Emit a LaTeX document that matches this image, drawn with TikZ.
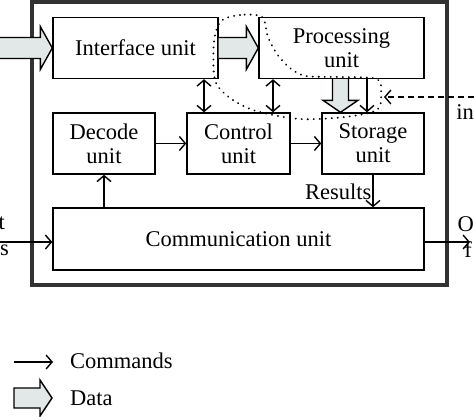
\documentclass[tikz,border=0pt]{standalone}
\usepackage{fontspec}
\setmainfont{Liberation Serif}
\usetikzlibrary{arrows.meta}
\definecolor{datafill}{RGB}{226,232,232}
\definecolor{framegray}{RGB}{50,50,50}

\begin{document}
\begin{tikzpicture}[x=1pt,y=-1pt,
    txt/.style={font=\fontsize{22.5}{24}\selectfont, inner sep=0pt},
    unitbox/.style={txt, draw, line width=1.4pt, minimum width=#1, minimum height=61pt, align=center},
    cmd/.style={line width=1.4pt, -{Straight Barb[length=6pt,width=14pt]}},
    cmdboth/.style={line width=1.4pt, {Straight Barb[length=6pt,width=14pt]}-{Straight Barb[length=6pt,width=14pt]}},
    data/.style={draw, line width=1.4pt, fill=datafill, line join=miter}]
    \useasboundingbox (0,0) rectangle (474,416);

    % Frame
    \draw[framegray, line width=3.2pt] (32,2) rectangle (447,285);

    % Units
    \node[unitbox=165pt] (ifc) at (135.5,48) {Interface unit};
    \node[unitbox=165pt] (proc) at (341.5,48) {Processing\\unit};
    \node[unitbox=102pt] (dec) at (104,143.5) {Decode\\unit};
    \node[unitbox=103pt] (ctl) at (238.5,143.5) {Control\\unit};
    \node[unitbox=102pt] (sto) at (373,143.5) {Storage\\unit};
    \node[unitbox=371pt, minimum height=62pt] (com) at (238.5,239) {Communication unit};

    % Dotted region
    \draw[line width=2.1pt, dash pattern=on 0.01pt off 6pt, line cap=round]
        plot[smooth cycle, tension=0.5] coordinates {(262,17) (240,15) (221,21) (214,42) (215,80)
        (230,98) (256,111) (300,119) (345,117) (377,110) (381,94) (377,79) (340,77) (306,76)
        (290,68) (277,54) (268,37)};

    % Data arrows
    \coordinate (inA) at (0,48);
    \draw[data] (inA) ++(0,-10.5) -- ([shift={(-12,-10.5)}]ifc.west) -- ([shift={(-12,-21.5)}]ifc.west)
        -- (ifc.west) -- ([shift={(-12,21.5)}]ifc.west) -- ([shift={(-12,10.5)}]ifc.west) -- (0,58.5);
    \draw[data] ([yshift=10.5pt]ifc.east) -- ([shift={(-12,-10.5)}]proc.west) -- ([shift={(-12,-21.5)}]proc.west)
        -- (proc.west) -- ([shift={(-12,21.5)}]proc.west) -- ([shift={(-12,10.5)}]proc.west) -- ([yshift=-10.5pt]ifc.east);
    \coordinate (pd) at ([xshift=-1pt]proc.south);
    \coordinate (sd) at (pd |- sto.north);
    \draw[data] ([xshift=-8pt]pd) -- ([shift={(-8,-12)}]sd) -- ([shift={(-17.5,-12)}]sd) -- (sd)
        -- ([shift={(17.5,-12)}]sd) -- ([shift={(8,-12)}]sd) -- ([xshift=8pt]pd);

    % Command arrows
    \coordinate (ia) at ([xshift=68.5pt]ifc.south);
    \coordinate (pa) at ([xshift=-68.5pt]proc.south);
    \coordinate (pb) at ([xshift=25.5pt]proc.south);
    \draw[cmdboth] (ia) -- (ia |- ctl.north);
    \draw[cmdboth] (pa) -- (pa |- ctl.north);
    \draw[cmd] (pb) -- (pb |- sto.north);
    \draw[cmd] (dec.east) -- (ctl.west);
    \draw[cmd] (ctl.east) -- (sto.west);
    \draw[cmd] (dec.south |- com.north) -- (dec.south);
    \draw[cmd] (sto.south) -- node[txt, left, xshift=-1pt, yshift=-1pt] (res) {Results} (sto.south |- com.north);
    \coordinate (inC) at (0,242);
    \coordinate (outC) at (470,242);
    \draw[cmd] (inC) -- (inC -| com.west);
    \draw[cmd] (outC -| com.east) -- (outC);
    \coordinate (intr) at (474,97);
    \draw[cmd, dash pattern=on 6pt off 4pt] (intr) -- (384,97);

    % Cut-off labels
    \node[txt, anchor=east] (lt) at (5,223) {t};
    \node[txt, anchor=east] (ls) at (9,250) {s};
    \node[txt, anchor=east] (ro) at (474,224) {O};
    \node[txt, anchor=east] (rf) at (472,250) {f};
    \node[txt, anchor=east] (ri) at (474,112) {in};

    % Legend
    \coordinate (lc1) at (14,362);
    \coordinate (lc2) at (53,362);
    \draw[cmd] (lc1) -- (lc2);
    \node[txt, anchor=west] (lcmd) at (70,361) {Commands};
    \coordinate (ld) at (52,398);
    \draw[data] (14,388) -- ([shift={(-12,-10)}]ld) -- ([shift={(-12,-18)}]ld) -- (ld)
        -- ([shift={(-12,18)}]ld) -- ([shift={(-12,10)}]ld) -- (14,408) -- cycle;
    \node[txt, anchor=west] (ldat) at (70,398) {Data};
\end{tikzpicture}
\end{document}
